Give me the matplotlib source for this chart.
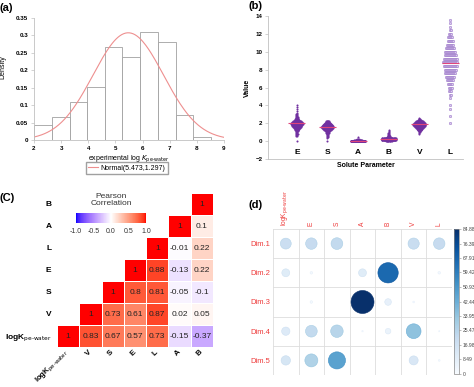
import numpy as np
import matplotlib
matplotlib.use('Agg')
import matplotlib.pyplot as plt
from matplotlib.colors import ListedColormap, Normalize
from matplotlib.cm import ScalarMappable

plt.rcParams['font.family'] = ['Liberation Sans', 'DejaVu Sans']

W, H = 474, 387


def rect(l, t, r, b):
    return [l / W, 1 - b / H, (r - l) / W, (b - t) / H]


# ---------------- data ----------------
# (a) histogram of experimental log K
hist_edges = [2.0, 2.65, 3.32, 3.97, 4.61, 5.26, 5.91, 6.56, 7.22, 7.86, 8.52]
hist_density = [0.043, 0.065, 0.108, 0.151, 0.266, 0.237, 0.309, 0.281, 0.072, 0.008]
norm_mean, norm_sd = 5.473, 1.297

# (b) solute parameters, counts per value level
cats_b = ['E', 'S', 'A', 'B', 'V', 'L']
E_levels = [0.0, 0.6, 0.7, 0.8, 0.9, 1.0, 1.1, 1.2, 1.3, 1.4, 1.5, 1.6, 1.7, 1.8, 1.9, 2.0,
            2.1, 2.2, 2.3, 2.4, 2.5, 2.6, 2.7, 2.8, 2.9, 3.0, 3.2, 3.4, 3.6, 3.8, 4.0]
E_counts = [1, 2, 2, 3, 2, 2, 3, 4, 5, 7, 9, 12, 14, 16, 18, 18,
            15, 12, 9, 7, 5, 4, 3, 2, 2, 2, 1, 1, 1, 1, 1]
S_levels = [0.05, 0.4, 0.5, 0.6, 0.7, 0.8, 0.9, 1.0, 1.1, 1.2, 1.3, 1.4, 1.5, 1.6, 1.7,
            1.8, 1.9, 2.0, 2.1, 2.2, 2.3]
S_counts = [1, 1, 2, 2, 2, 3, 4, 5, 6, 8, 11, 14, 17, 18, 17, 15, 12, 9, 6, 4, 2]
A_levels = [0.0, 0.05, 0.1, 0.15, 0.2, 0.5]
A_counts = [120, 20, 12, 6, 3, 1]
B_levels = [0.0, 0.1, 0.2, 0.3, 0.4, 0.5, 0.6, 0.7, 0.8, 0.9, 1.0, 1.1, 1.2]
B_counts = [10, 40, 50, 25, 10, 6, 4, 3, 2, 2, 1, 1, 1]
V_levels = [0.8, 0.9, 1.0, 1.1, 1.2, 1.3, 1.4, 1.5, 1.6, 1.7, 1.8, 1.9, 2.0, 2.1, 2.2,
            2.3, 2.4, 2.5, 2.6]
V_counts = [1, 1, 2, 3, 4, 6, 8, 10, 13, 16, 18, 18, 16, 13, 10, 7, 5, 3, 1]
L_levels = [2.0, 2.8, 3.6, 4.0, 4.8, 5.2, 5.6, 6.0, 6.4, 6.8, 7.2, 7.6, 8.0, 8.4, 8.8,
            9.2, 9.6, 10.0, 10.4, 10.8, 11.2, 11.6, 12.0, 12.4, 12.8, 13.2, 13.6]
L_counts = [1, 1, 1, 1, 1, 2, 3, 4, 5, 7, 9, 11, 12, 14, 15,
            14, 12, 11, 9, 7, 6, 5, 3, 2, 1, 1, 1]
medians_b = [2.0, 1.6, 0.0, 0.2, 1.9, 8.7]

# (c) Pearson correlation (upper triangle, rows from bottom)
vars_c = ['logK', 'V', 'S', 'E', 'L', 'A', 'B']
corr_rows = [
    [1, 0.83, 0.67, 0.57, 0.73, -0.15, -0.37],
    [1, 0.73, 0.61, 0.87, 0.02, 0.05],
    [1, 0.8, 0.81, -0.05, -0.1],
    [1, 0.88, -0.13, 0.22],
    [1, -0.01, 0.22],
    [1, 0.1],
    [1],
]

# (d) contributions of variables to dimensions
dims = ['Dim.1', 'Dim.2', 'Dim.3', 'Dim.4', 'Dim.5']
vars_d = ['logK', 'E', 'S', 'A', 'B', 'V', 'L']
contrib = [
    [19, 21, 22, 0, 0, 20, 21],
    [10, 1, 0, 10, 66, 0, 1],
    [0, 1, 0, 84.88, 7, 0.5, 0],
    [11, 22, 25, 0.3, 5, 35, 0.2],
    [14, 27, 47, 0, 0, 13, 0.5],
]
cbar_d_ticks = [0, 8.49, 16.98, 25.47, 33.95, 42.44, 50.93, 59.42, 67.91, 76.39, 84.88]

logk_lab = 'logK$_{\\mathrm{pe\u2010water}}$'

fig = plt.figure(figsize=(W / 100, H / 100), dpi=100)

# ---------------- (a) ----------------
ax = fig.add_axes(rect(34, 18, 224, 140))
ax.bar(hist_edges[:-1], hist_density, width=np.diff(hist_edges), align='edge',
       facecolor='white', edgecolor='#a0a0a0', lw=0.6)
xs = np.linspace(2, 9, 200)
pdf = np.exp(-0.5 * ((xs - norm_mean) / norm_sd) ** 2) / (norm_sd * np.sqrt(2 * np.pi))
ln, = ax.plot(xs, pdf, color='#EE8F8F', lw=0.8)
ax.set_xlim(2, 9)
ax.set_ylim(0, 0.35)
ax.set_xticks(range(2, 10))
ax.set_yticks([0, 0.05, 0.1, 0.15, 0.2, 0.25, 0.3, 0.35])
ax.set_yticklabels(['0', '0.05', '0.1', '0.15', '0.2', '0.25', '0.3', '0.35'])
for s in ['top', 'right']:
    ax.spines[s].set_visible(False)
for s in ['left', 'bottom']:
    ax.spines[s].set_color('#c0c0c0')
    ax.spines[s].set_linewidth(0.6)
ax.tick_params(labelsize=4.5, length=2, width=0.5, color='#c0c0c0', pad=2)
for t in ax.get_xticklabels() + ax.get_yticklabels():
    t.set_fontweight('bold')
ax.set_xlabel('experimental log $K_{\\mathrm{pe\u2010water}}$', fontsize=5, labelpad=2)
ax.set_ylabel('Density', fontsize=5)
ax.yaxis.set_label_coords(-0.145, 0.6)
ax.legend([ln], ['Normal(5.473,1.297)'], loc='center', bbox_to_anchor=(127 / W, 1 - 168 / H),
          bbox_transform=fig.transFigure, fontsize=5, fancybox=False, edgecolor='#a0a0a0',
          handlelength=1.4, borderpad=0.35, handletextpad=0.4, framealpha=1)
fig.text(0 / W, 1 - 8 / H, '(a)', fontsize=8, fontweight='bold', va='center')

# ---------------- (b) ----------------
ax = fig.add_axes(rect(268, 16, 463, 159))


def swarm(ax, xc, levels, counts, dx, wmax, **kw):
    px, py = [], []
    for v, n in zip(levels, counts):
        w = min((n - 1) * dx, wmax)
        offs = np.linspace(-w / 2, w / 2, n)
        px += list(xc + offs)
        py += [v] * n
    ax.scatter(px, py, **kw)


dark = dict(s=2.2, color='#7030A0', lw=0, zorder=3)
swarm(ax, 0, E_levels, E_counts, 0.023, 0.45, **dark)
swarm(ax, 1, S_levels, S_counts, 0.023, 0.45, **dark)
swarm(ax, 2, A_levels, A_counts, 0.023, 0.46, **dark)
swarm(ax, 3, B_levels, B_counts, 0.02, 0.46, **dark)
swarm(ax, 4, V_levels, V_counts, 0.023, 0.45, **dark)
swarm(ax, 5, L_levels, L_counts, 0.033, 0.5, s=3, facecolor='#DCCCF0',
      edgecolor='#9C78C8', lw=0.4, zorder=3)
for i, m in enumerate(medians_b):
    ax.hlines(m, i - 0.28, i + 0.28, color='#E0457B', lw=0.8, zorder=4)
ax.set_xlim(-0.94, 5.42)
ax.set_ylim(-2, 14)
ax.set_yticks(range(-2, 15, 2))
ax.set_xticks([])
for i, c in enumerate(cats_b):
    ax.text(i, -1.3, c, ha='center', va='center', fontsize=6, fontweight='bold')
for s in ['top', 'right']:
    ax.spines[s].set_visible(False)
for s in ['left', 'bottom']:
    ax.spines[s].set_color('#c0c0c0')
    ax.spines[s].set_linewidth(0.6)
ax.tick_params(labelsize=4.5, length=2, width=0.5, color='#c0c0c0', pad=2)
for t in ax.get_yticklabels():
    t.set_fontweight('bold')
ax.set_ylabel('Value', fontsize=5, fontweight='bold', labelpad=3)
ax.set_xlabel('Solute Parameter', fontsize=5, fontweight='bold', labelpad=2)
fig.text(248 / W, 1 - 6 / H, '(b)', fontsize=8, fontweight='bold', va='center')


# ---------------- (c) ----------------
def lab2rgb(L, a, b):
    fy = (L + 16) / 116
    fx = fy + a / 500
    fz = fy - b / 200

    def finv(t):
        return t ** 3 if t ** 3 > 0.008856 else (t - 16 / 116) / 7.787
    X, Y, Z = 0.95047 * finv(fx), finv(fy), 1.08883 * finv(fz)
    rgb = [3.2406 * X - 1.5372 * Y - 0.4986 * Z,
           -0.9689 * X + 1.8758 * Y + 0.0415 * Z,
           0.0557 * X - 0.2040 * Y + 1.0570 * Z]
    out = []
    for c in rgb:
        c = 12.92 * c if c <= 0.0031308 else 1.055 * max(c, 0) ** (1 / 2.4) - 0.055
        out.append(min(max(c, 0), 1))
    return out


lab_blue = np.array([32.30, 79.19, -107.86])
lab_white = np.array([100.0, 0.0, 0.0])
lab_red = np.array([53.24, 80.09, 67.20])
cols = []
for t in np.linspace(-1, 1, 256):
    lab = lab_white + (lab_red - lab_white) * t if t >= 0 else lab_white + (lab_blue - lab_white) * (-t)
    cols.append(lab2rgb(*lab))
cmap_c = ListedColormap(cols)

n = len(vars_c)
M = np.full((n, n), np.nan)
for i, row in enumerate(corr_rows):
    for k, v in enumerate(row):
        M[i, i + k] = v
ax = fig.add_axes(rect(57, 193, 213, 347))
ax.pcolormesh(np.arange(n + 1), np.arange(n + 1), np.ma.masked_invalid(M), cmap=cmap_c,
              vmin=-1, vmax=1, edgecolors='white', linewidth=0.4)
for i in range(n):
    for j in range(n):
        if not np.isnan(M[i, j]):
            ax.text(j + 0.5, i + 0.5, f'{M[i, j]:g}', ha='center', va='center',
                    fontsize=6, color='#222222')
ax.set_xlim(0, n)
ax.set_ylim(0, n)
labs = [logk_lab] + vars_c[1:]
ax.set_yticks(np.arange(n) + 0.5)
ax.set_yticklabels(labs, fontsize=6, fontweight='bold')
ax.set_xticks(np.arange(n) + 0.5)
ax.set_xticklabels(labs, fontsize=5.6, fontweight='bold', rotation=45, ha='right',
                   va='center', rotation_mode='anchor')
ax.tick_params(axis='y', length=0, pad=4)
ax.tick_params(axis='x', length=0, pad=3)
for s in ax.spines.values():
    s.set_visible(False)

cax = fig.add_axes(rect(76, 213, 146, 223))
cb = fig.colorbar(ScalarMappable(Normalize(-1, 1), cmap_c), cax=cax, orientation='horizontal')
cb.outline.set_visible(False)
cb.set_ticks([-1, -0.5, 0, 0.5, 1])
cb.set_ticklabels(['-1.0', '-0.5', '0.0', '0.5', '1.0'])
cax.tick_params(labelsize=5, length=2, width=0.4, color='white', pad=1.5, labelcolor='#333333')
fig.text(111 / W, 1 - 200 / H, 'Pearson\nCorrelation', ha='center', va='center',
         fontsize=6, color='#333333', linespacing=1.0)
fig.text(0 / W, 1 - 198 / H, '(C)', fontsize=8, fontweight='bold', va='center')

# ---------------- (d) ----------------
ax = fig.add_axes(rect(273, 229, 452, 375))
C = np.array(contrib)
vmax = 84.88
nr, nc = C.shape
gx, gy = np.meshgrid(np.arange(nc) + 0.5, np.arange(nr) + 0.5)
cmap_d = plt.get_cmap('Blues')
rmax_px = 11.5
sizes = (2 * rmax_px * np.sqrt(C / vmax) * 72 / 100) ** 2
ax.scatter(gx.ravel(), gy.ravel(), s=sizes.ravel(), c=C.ravel(), cmap=cmap_d,
           vmin=0, vmax=vmax, edgecolors=cmap_d(np.clip(C.ravel() / vmax + 0.08, 0, 1)),
           linewidths=0.4, zorder=3)
for k in range(nc + 1):
    ax.axvline(k, color='#dddddd', lw=0.6, zorder=1)
for k in range(nr + 1):
    ax.axhline(k, color='#dddddd', lw=0.6, zorder=1)
ax.set_xlim(0, nc)
ax.set_ylim(nr, 0)
ax.xaxis.tick_top()
ax.set_xticks(np.arange(nc) + 0.5)
ax.set_xticklabels([logk_lab] + vars_d[1:], rotation=90, fontsize=4.8, color='#EE3B3B')
ax.set_yticks(np.arange(nr) + 0.5)
ax.set_yticklabels(dims, fontsize=5.5, color='#EE3B3B')
ax.tick_params(length=0, pad=2)
for s in ax.spines.values():
    s.set_visible(False)

cax = fig.add_axes(rect(454, 229, 459, 374))
cb = fig.colorbar(ScalarMappable(Normalize(0, vmax), cmap_d), cax=cax)
cb.outline.set_edgecolor('#888888')
cb.outline.set_linewidth(0.5)
cb.set_ticks(cbar_d_ticks)
cb.set_ticklabels([f'{t:g}' for t in cbar_d_ticks])
cax.tick_params(labelsize=3.6, length=1.5, width=0.4, color='#888888', pad=1, labelcolor='#444444')
fig.text(248 / W, 1 - 205 / H, '(d)', fontsize=8, fontweight='bold', va='center')

fig.savefig('out.png', dpi=100)
